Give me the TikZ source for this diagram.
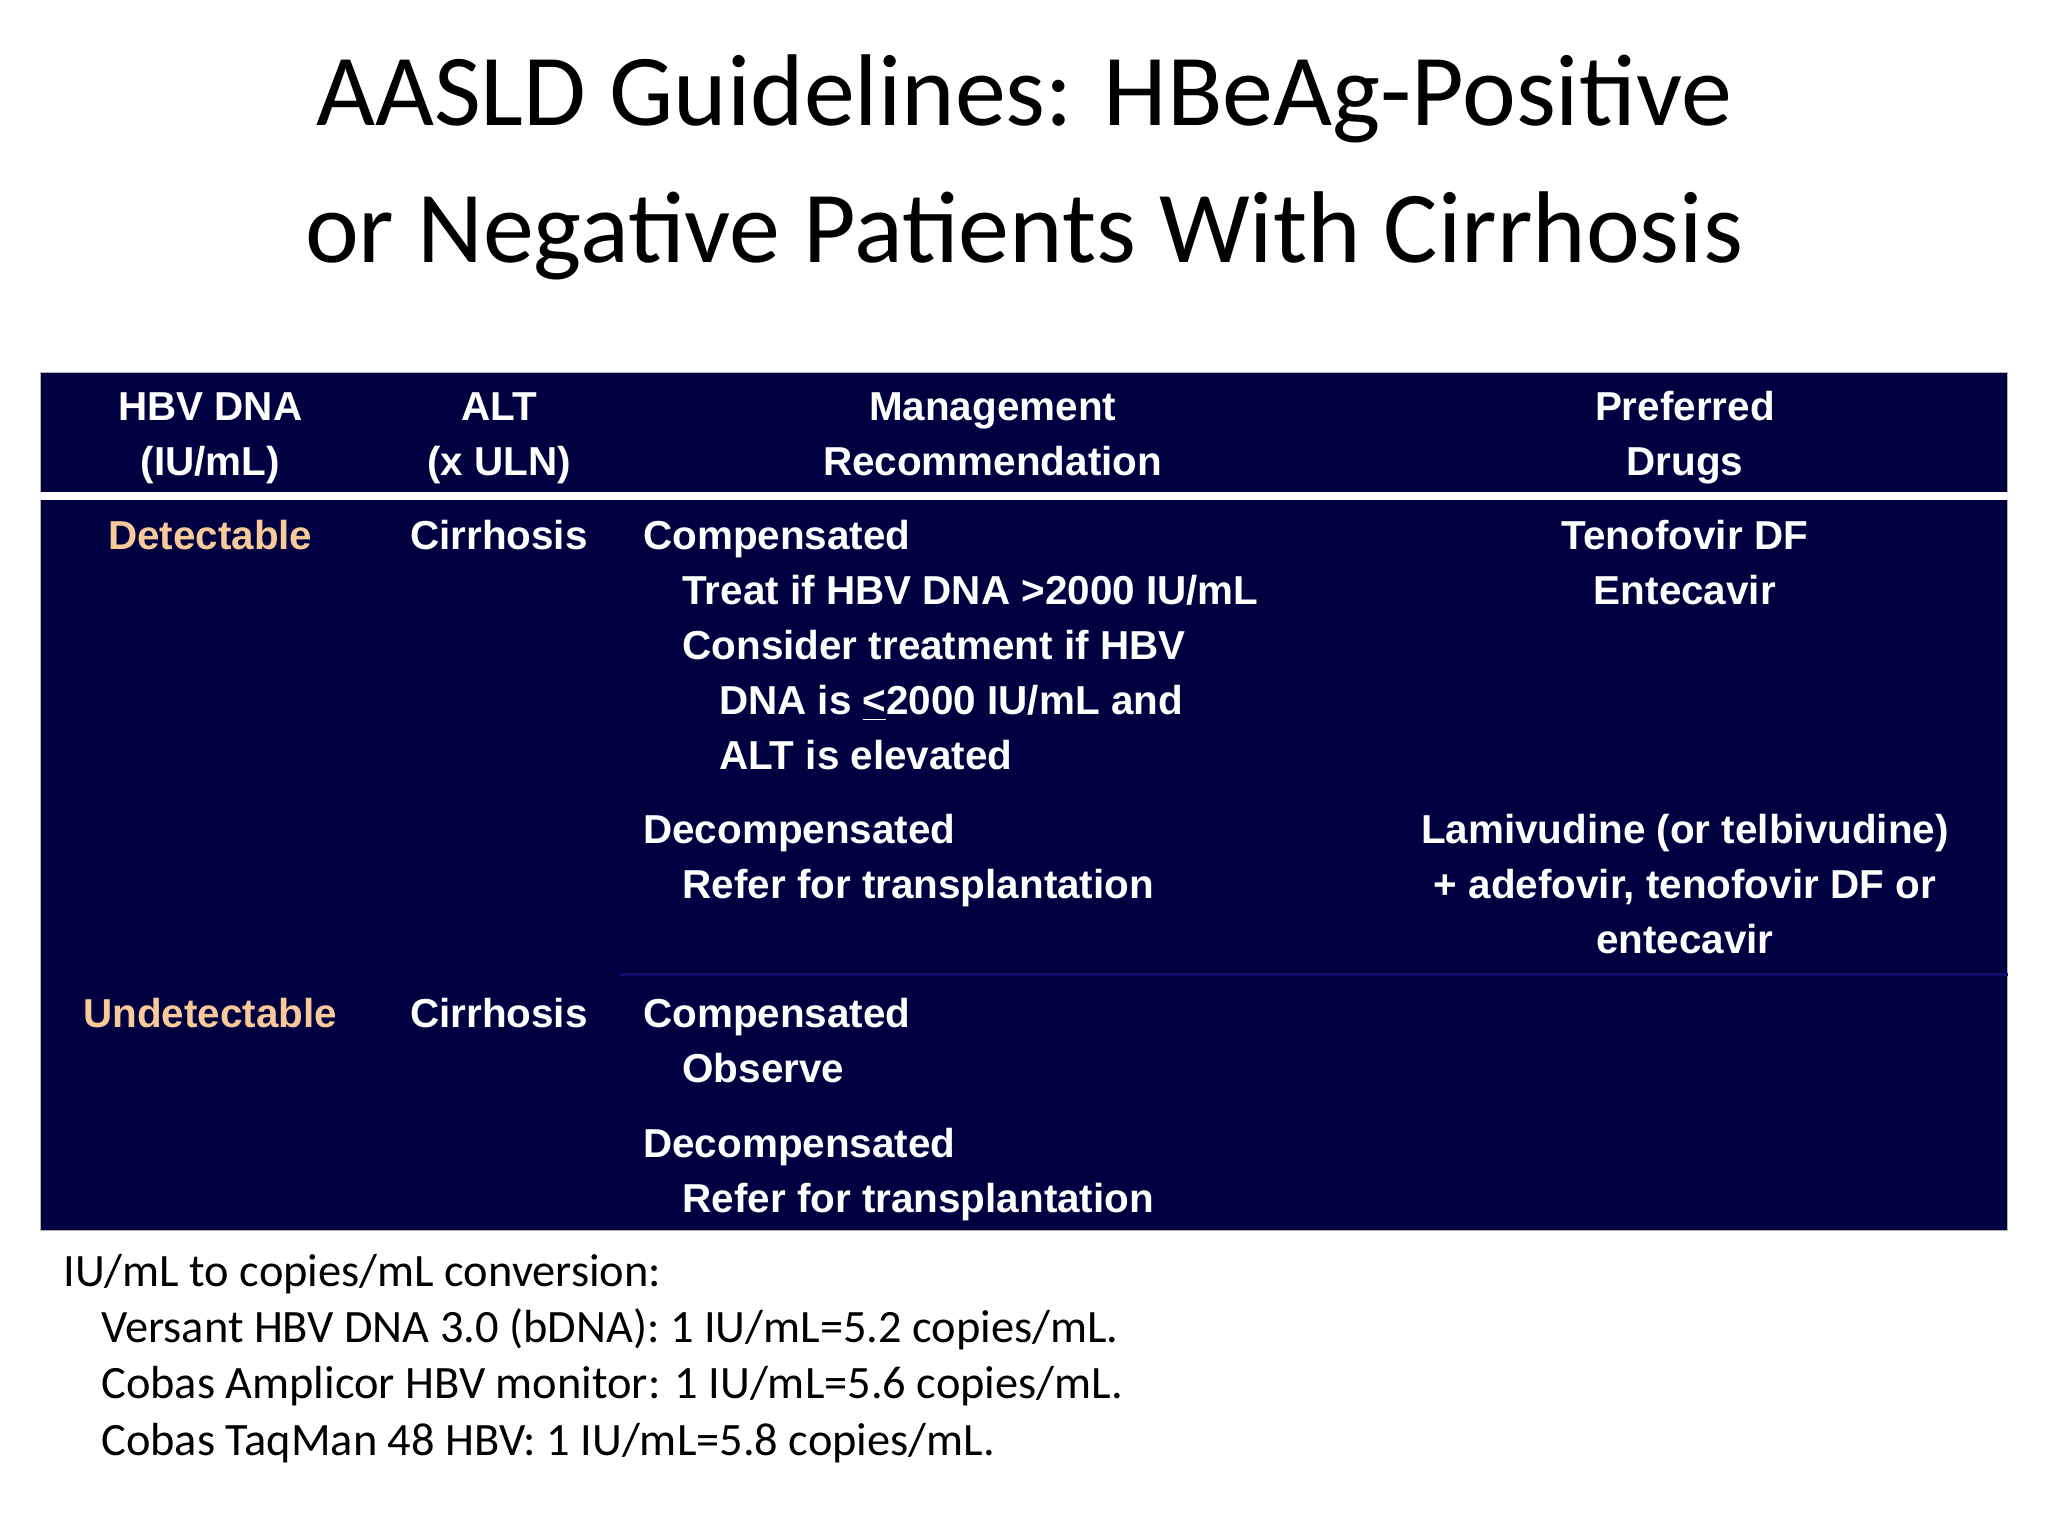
\documentclass[tikz,border=0pt]{standalone}
\usepackage{fontspec}
\setmainfont{Liberation Sans}
\newfontfamily\calib{Carlito}
\usetikzlibrary{positioning}
\definecolor{navy}{HTML}{000040}
\definecolor{peach}{HTML}{F9C99A}
\definecolor{rule}{HTML}{10106A}

\tikzset{
  tbl/.style={text=white, font=\fontsize{11.5}{15.5}\selectfont\bfseries, inner sep=0pt},
  tl/.style={tbl, anchor=base west},
  tc/.style={tbl, anchor=base, align=center},
  pk/.style={tc, text=peach},
  fnote/.style={font=\calib\fontsize{13.2}{15.8}\selectfont, anchor=base west, inner sep=0pt}
}

\begin{document}
\begin{tikzpicture}[x=0.013061cm, y=-0.013061cm]
\useasboundingbox (0,0) rectangle (1568,1176);

% title
\node[font=\calib\fontsize{29}{39}\selectfont, align=center] (title) at (784,128)
  {AASLD Guidelines: HBeAg-Positive\\or Negative Patients With Cirrhosis};

% table body
\fill[navy] (31,285) rectangle (1537,942);
\draw[gray!60] (31,285) rectangle (1537,942);
\draw[white, line width=2.2pt] (31,380) -- (1537,380);
\draw[rule, line width=0.8pt] (475,746) -- (1537,746);

% header
\node[tc] (h1) at (161,322) {HBV DNA};
\node[tc] (h1b) at (161,364) {(IU/mL)};
\node[tc] (h2) at (382,322) {ALT};
\node[tc] (h2b) at (382,364) {(x ULN)};
\node[tc] (h3) at (760,322) {Management};
\node[tc] (h3b) at (760,364) {Recommendation};
\node[tc] (h4) at (1290,322) {Preferred};
\node[tc] (h4b) at (1290,364) {Drugs};

% detectable
\node[pk] (det) at (161,421) {Detectable};
\node[tc] (cir1) at (382,421) {Cirrhosis};
\node[tl] (c1) at (492,421) {Compensated};
\node[tl] (c1a) at (522,463) {Treat if HBV DNA >2000 IU/mL};
\node[tl] (c1b) at (522,505) {Consider treatment if HBV};
\node[tl] (c1c) at (550,547) {DNA is \underline{<}2000 IU/mL and};
\node[tl] (c1d) at (550,589) {ALT is elevated};
\node[tc] (d1) at (1290,421) {Tenofovir DF};
\node[tc] (d1b) at (1290,463) {Entecavir};

\node[tl] (c2) at (492,646) {Decompensated};
\node[tl] (c2a) at (522,688) {Refer for transplantation};
\node[tc] (d2) at (1290,646) {Lamivudine (or telbivudine)};
\node[tc] (d2b) at (1290,688) {+ adefovir, tenofovir DF or};
\node[tc] (d2c) at (1290,730) {entecavir};

% undetectable
\node[pk] (und) at (161,787) {Undetectable};
\node[tc] (cir2) at (382,787) {Cirrhosis};
\node[tl] (c3) at (492,787) {Compensated};
\node[tl] (c3a) at (522,829) {Observe};
\node[tl] (c4) at (492,886) {Decompensated};
\node[tl] (c4a) at (522,928) {Refer for transplantation};

% footnote
\node[fnote] (f0) at (48,985) {IU/mL to copies/mL conversion:};
\node[fnote] (f1) at (77,1028) {Versant HBV DNA 3.0 (bDNA): 1 IU/mL=5.2 copies/mL.};
\node[fnote] (f2) at (77,1071) {Cobas Amplicor HBV monitor: 1 IU/mL=5.6 copies/mL.};
\node[fnote] (f3) at (77,1114) {Cobas TaqMan 48 HBV: 1 IU/mL=5.8 copies/mL.};

\end{tikzpicture}
\end{document}
